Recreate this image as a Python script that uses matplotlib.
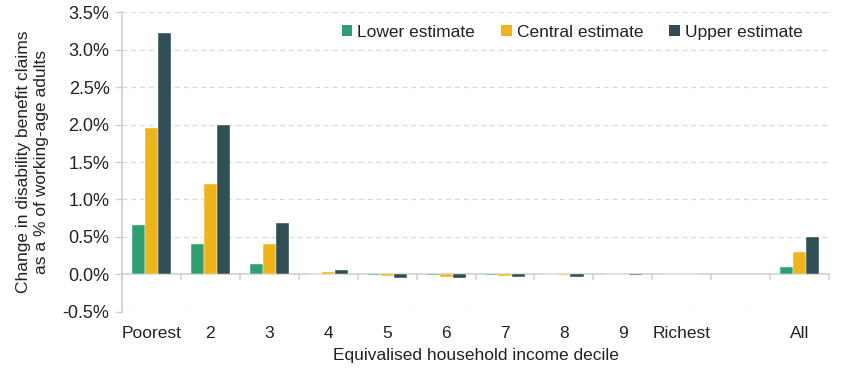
import matplotlib
matplotlib.use("Agg")
import matplotlib.pyplot as plt
import numpy as np
from matplotlib.patches import Patch

plt.rcParams['font.family'] = ['Liberation Sans', 'DejaVu Sans']

categories = ["Poorest", "2", "3", "4", "5", "6", "7", "8", "9", "Richest", "", "All"]
lower = [0.66, 0.40, 0.14, 0.005, -0.005, -0.005, -0.005, -0.003, 0.0, 0.003, np.nan, 0.10]
central = [1.95, 1.20, 0.41, 0.03, -0.025, -0.03, -0.02, -0.01, -0.002, 0.0, np.nan, 0.30]
upper = [3.23, 2.00, 0.685, 0.055, -0.045, -0.05, -0.04, -0.03, -0.005, -0.002, np.nan, 0.50]
series_names = ["Lower estimate", "Central estimate", "Upper estimate"]
colors = ["#2e9e73", "#f0b41b", "#2f4e55"]
yticks = [-0.5, 0.0, 0.5, 1.0, 1.5, 2.0, 2.5, 3.0, 3.5]

fig = plt.figure(figsize=(8.48, 3.74), dpi=100)
ax = fig.add_axes([0.1439, 0.1666, 0.8337, 0.8004])

x = np.arange(len(categories))
w = 0.222
for i, (vals, c, name) in enumerate(zip([lower, central, upper], colors, series_names)):
    ax.bar(x + (i - 1) * w, vals, width=w, color=c, edgecolor='white', linewidth=0.3, label=name, zorder=3)

ax.set_xlim(-0.5, len(categories) - 0.5)
ax.set_ylim(-0.5, 3.5)
ax.set_yticks(yticks)
ax.set_yticklabels([f"{t:.1f}%" for t in yticks], fontsize=13, color='#222222')
for t in yticks:
    if t != 0.0:
        ax.axhline(t, color='#d9d9d9', linestyle=(0, (4, 3)), linewidth=0.9, zorder=1)
ax.axhline(0, color='#d0d0d0', linewidth=1.2, zorder=2)
# category boundary tick marks on zero line
for b in np.arange(-0.5, len(categories), 1.0):
    ax.plot([b, b], [0, -0.06], color='#d0d0d0', linewidth=1.2, zorder=2, clip_on=False)

ax.set_xticks(x)
ax.set_xticklabels(categories, fontsize=12.5, color='#222222')
ax.tick_params(axis='x', length=0, pad=10)
ax.tick_params(axis='y', length=5, color='#d0d0d0', width=1.0, pad=4)

for s in ['top', 'right', 'bottom']:
    ax.spines[s].set_visible(False)
ax.spines['left'].set_color('#d0d0d0')
ax.spines['left'].set_linewidth(1.2)

ax.set_ylabel("Change in disability benefit claims\nas a % of working-age adults", fontsize=12.5, color='#222222', labelpad=10,
              linespacing=1.2)
ax.set_xlabel("Equivalised household income decile", fontsize=12.5, color='#222222', labelpad=5)

handles = [Patch(facecolor=c, edgecolor='none') for c in colors]
leg = ax.legend(handles, series_names, loc='upper right', bbox_to_anchor=(0.985, 1.01), ncol=3,
                frameon=False, fontsize=12.5, handlelength=0.6, handleheight=0.6,
                handletextpad=0.3, columnspacing=1.5)
for t in leg.get_texts():
    t.set_color('#222222')

fig.savefig("out.png", dpi=100, facecolor='white')
